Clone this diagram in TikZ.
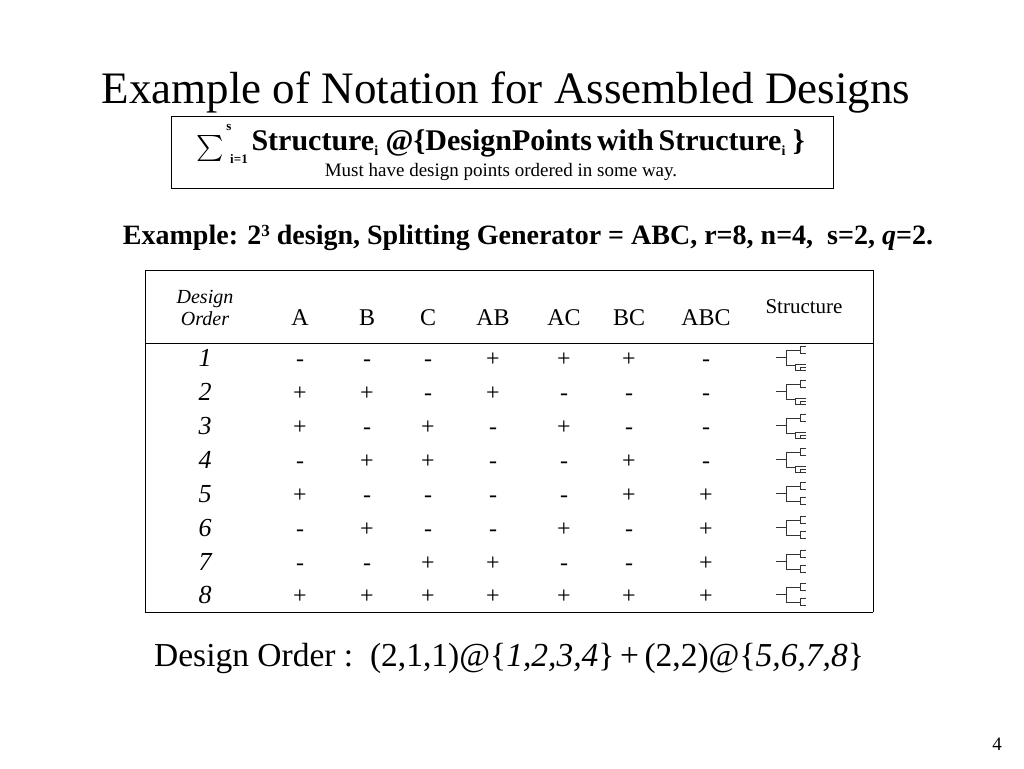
\documentclass[tikz,border=0pt]{standalone}
\usepackage{fontspec}
\usepackage{graphicx}
\setmainfont{Liberation Serif}
\newcommand{\fs}[1]{\fontsize{#1}{#1}\selectfont}
\begin{document}
\begin{tikzpicture}[x=1pt,y=-1pt,
 cell/.style={anchor=center,font=\fs{24},text height=14pt,text depth=3pt},
 icon/.style={line width=0.9pt,gray!40!black}]
\useasboundingbox (0,0) rectangle (1024,768);
\node (title) at (506,93) {\fs{45}Example of Notation for Assembled Designs};
\draw[line width=0.8pt] (171,116) rectangle (833,188);
\node[inner sep=0pt] (sum) at (210,148) {\scalebox{2.6}{$\sum$}};
\node[inner sep=0pt] (sups) at (229,127) {\fs{13}\bfseries s};
\node[inner sep=0pt] (subi) at (239,159) {\fs{13}\bfseries i=1};
\node[anchor=west] (form) at (248,143) {\fs{30}\bfseries Structure\raisebox{-5pt}{\fs{14}i} @\{DesignPoints\,with\,Structure\raisebox{-5pt}{\fs{14}i} \}};
\node (must) at (501,172) {\fs{19}Must have design points ordered in some way.};
\node (ex) at (528,238) {\fs{28}\bfseries Example: 2\raisebox{8pt}{\fs{17}3} design, Splitting Generator = ABC, r=8, n=4,\ \ s=2, \textit{q}=2.};
\draw[line width=0.8pt] (145,270) -- (873,270) (145,343) -- (873,343) (145,612) -- (873,612) (145,270) -- (145,612) (873,270) -- (873,612);
\node[align=center,font=\fs{20}\itshape] (do) at (205,308) {Design\\[2pt]Order};
\foreach \t/\x in {A/300,B/367,C/428,AB/493,AC/564,BC/629,ABC/706}
  \node[cell] (h\t) at (\x,320) {\t};
\node[cell,font=\fs{21}] (hs) at (804,308) {Structure};
\foreach \r/\y/\row in {1/361/{-,-,-,+,+,+,-},2/395/{+,+,-,+,-,-,-},3/429/{+,-,+,-,+,-,-},4/463/{-,+,+,-,-,+,-},5/497/{+,-,-,-,-,+,+},6/531/{-,+,-,-,+,-,+},7/565/{-,-,+,+,-,-,+},8/598/{+,+,+,+,+,+,+}}{
  \node[cell,font=\fs{26}\itshape] (o\r) at (205,\y) {\r};
  \foreach \s [count=\c] in \row {
    \pgfmathsetmacro{\xx}{{0,300,367,428,493,564,629,706}[\c]}
    \node[cell] (c\r-\c) at (\xx,\y) {\s};}
  \begin{scope}[shift={(0,\y)}]
   \draw[icon] (776,-4) -- (786,-4) (786,-11) -- (786,4) (786,-11) -- (800,-11)
     (806,-15) -- (800,-15) -- (800,-8) -- (806,-8);
   \ifnum\r<5
     \draw[icon] (786,4) -- (795,4) (806,3) -- (795,3) -- (795,9) -- (806,9) (800,9) -- (800,6) -- (806,6);
   \else
     \draw[icon] (786,4) -- (800,4) (806,0) -- (800,0) -- (800,7) -- (806,7);
   \fi
  \end{scope}
}
\node (dord) at (509,658) {\fs{33.5}Design Order :\ \ (2,1,1)@\{\textit{1,2,3,4}\}\,+\,(2,2)@\{\textit{5,6,7,8}\}};
\node (pg) at (997,744) {\fs{19}4};
\end{tikzpicture}
\end{document}
